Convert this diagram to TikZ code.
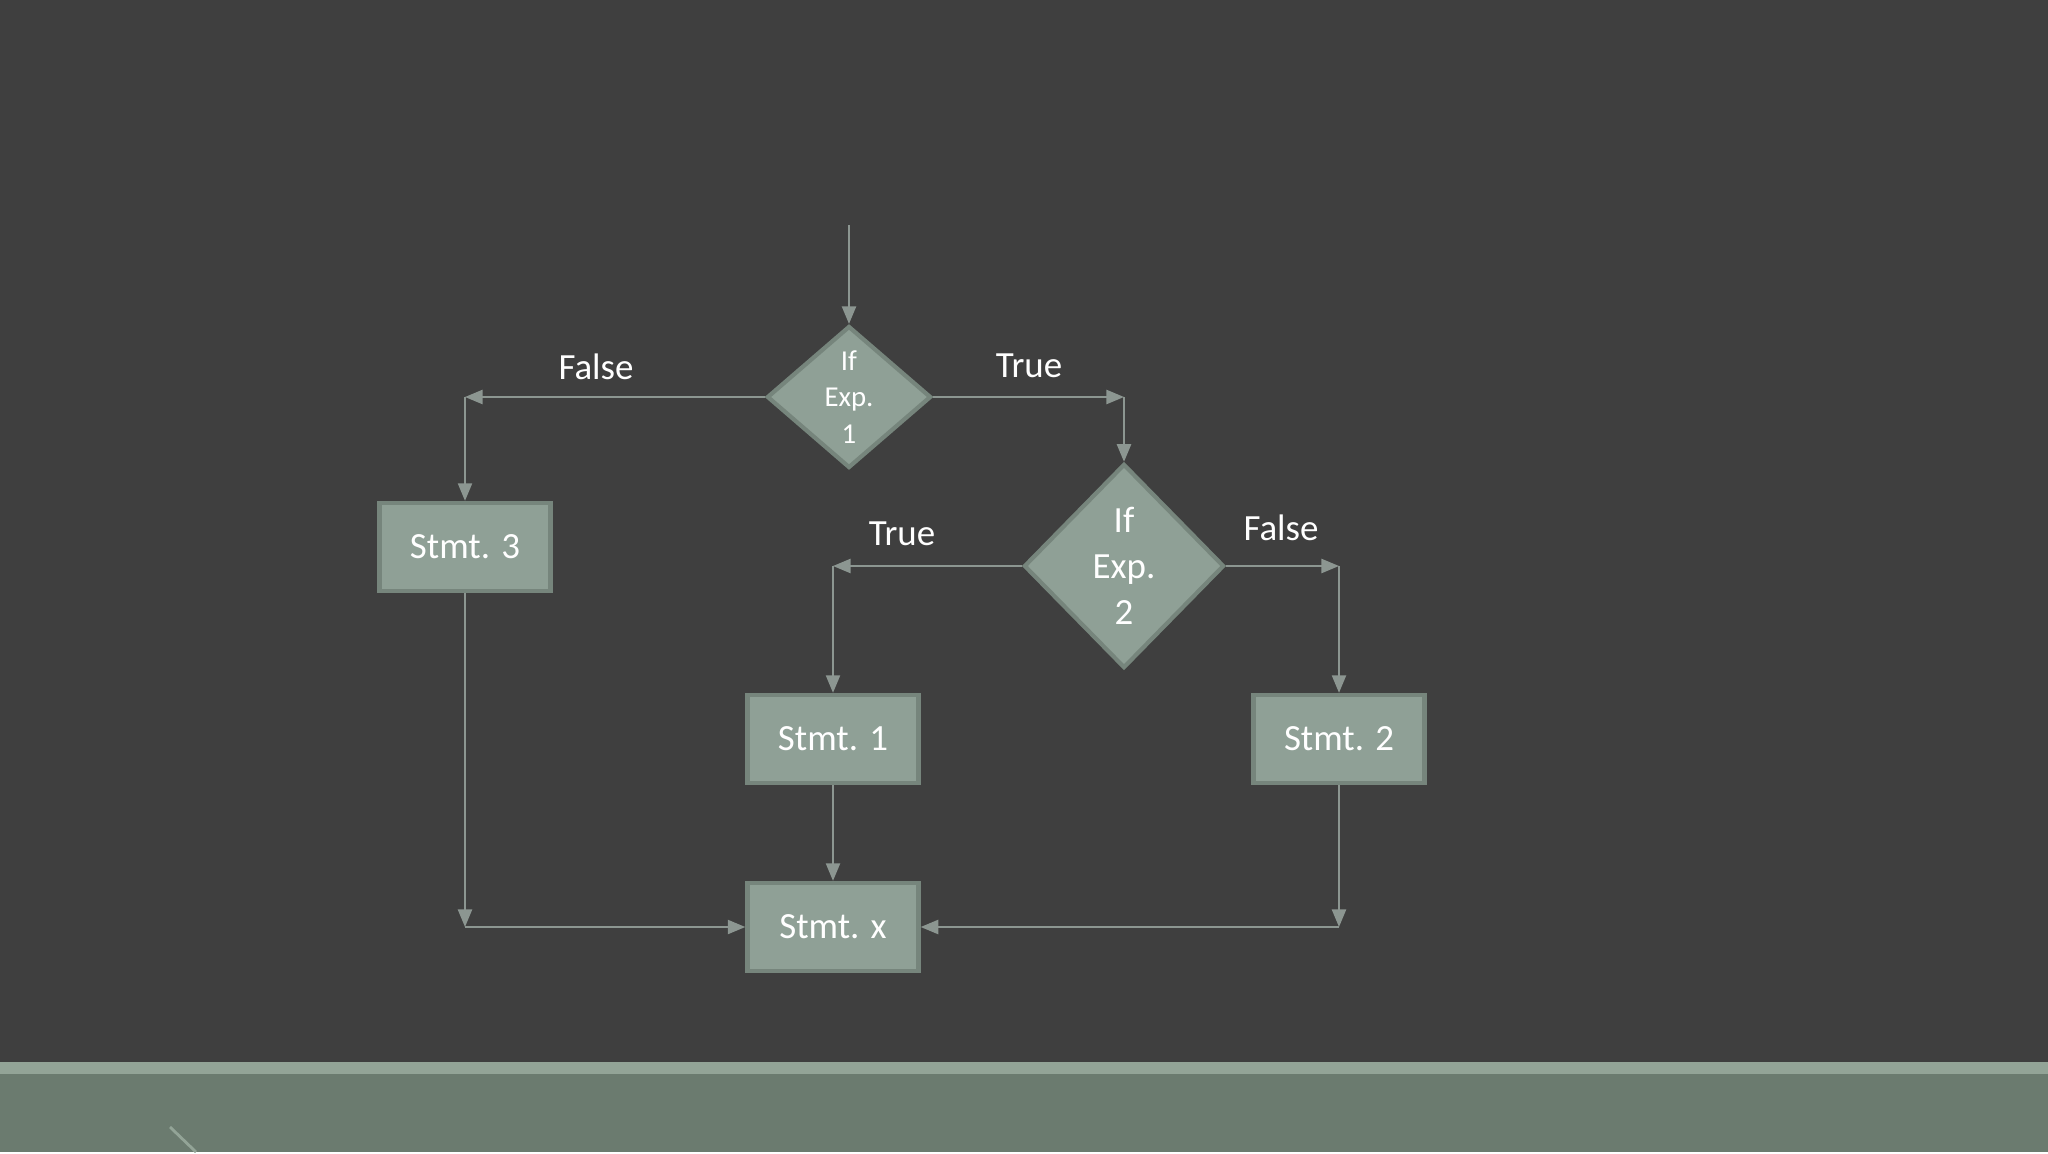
\documentclass[tikz,border=0pt]{standalone}
\usepackage{fontspec}
\setmainfont{Carlito}
\usetikzlibrary{shapes.geometric,arrows.meta}
\definecolor{bg}{HTML}{3F3F3F}
\definecolor{boxfill}{HTML}{8FA096}
\definecolor{boxline}{HTML}{76857C}
\definecolor{conn}{HTML}{8C9691}
\definecolor{bandlight}{HTML}{93A497}
\definecolor{banddark}{HTML}{6B7B6F}
\tikzset{
  stmtbox/.style={draw=boxline,line width=1.2pt,fill=boxfill,minimum width=1.71cm,minimum height=0.88cm,text=white,font=\fontsize{10.5}{12}\selectfont,inner sep=0pt},
  decbox/.style={diamond,draw=boxline,line width=1.2pt,fill=boxfill,text=white,inner sep=0pt,align=center},
  conline/.style={draw=conn,line width=0.6pt,-{Triangle[length=5pt,width=4pt]}},
  plain/.style={draw=conn,line width=0.6pt},
  lbl/.style={text=white,font=\fontsize{10.5}{12}\selectfont}
}
\begin{document}
\begin{tikzpicture}[x=0.01cm,y=-0.01cm]
\fill[bg] (0,0) rectangle (2048,1152);
\fill[bandlight] (0,1062) rectangle (2048,1074);
\fill[banddark] (0,1074) rectangle (2048,1152);
\draw[bandlight,line width=0.8pt] (170,1127) -- (196,1152);
\coordinate (top) at (849,225);
\node[decbox,minimum width=1.64cm,minimum height=1.30cm,font=\fontsize{8.2}{10.4}\selectfont] (d1) at (849,397) {If\\Exp.\\1};
\node[decbox,minimum width=2.0cm,minimum height=2.04cm,font=\fontsize{10.5}{13}\selectfont] (d2) at (1124,566) {If\\Exp.\\2};
\node[stmtbox] (s3) at (465,547) {Stmt. 3};
\node[stmtbox] (s1) at (833,739) {Stmt. 1};
\node[stmtbox] (s2) at (1339,739) {Stmt. 2};
\node[stmtbox] (sx) at (833,927) {Stmt. x};
\node[lbl] (lf1) at (596,367) {False};
\node[lbl] (lt1) at (1029,366) {True};
\node[lbl] (lt2) at (902,534) {True};
\node[lbl] (lf2) at (1281,528) {False};
\coordinate (c1) at (465,397);
\coordinate (c2) at (1124,397);
\coordinate (c3) at (833,566);
\coordinate (c4) at (1339,566);
\coordinate (c5) at (465,927);
\coordinate (c6) at (1339,927);
\draw[conline] (top) -- (d1.north);
\draw[conline] (d1.west) -- (c1);
\draw[conline] (c1) -- (s3.north);
\draw[conline] (d1.east) -- (c2);
\draw[conline] (c2) -- (d2.north);
\draw[conline] (d2.west) -- (c3);
\draw[conline] (c3) -- (s1.north);
\draw[conline] (d2.east) -- (c4);
\draw[conline] (c4) -- (s2.north);
\draw[conline] (s1.south) -- (sx.north);
\draw[conline] (s3.south) -- (c5);
\draw[conline] (c5) -- (sx.west);
\draw[conline] (s2.south) -- (c6);
\draw[conline] (c6) -- (sx.east);
\end{tikzpicture}
\end{document}
